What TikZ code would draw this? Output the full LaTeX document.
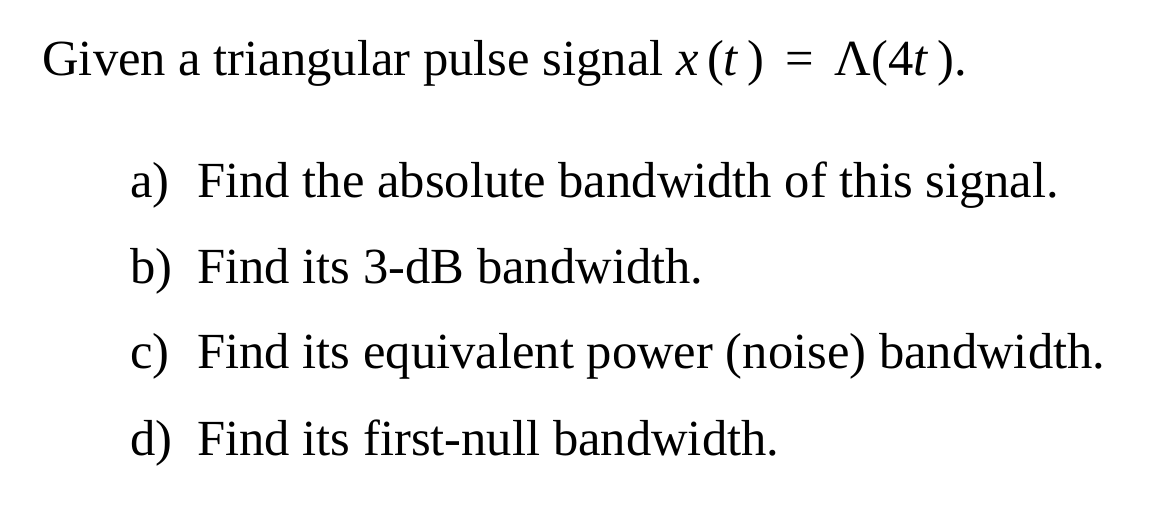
\documentclass[tikz,border=0pt]{standalone}
\usepackage{fontspec}
\setmainfont{Liberation Serif}
\begin{document}
\begin{tikzpicture}[x=0.5pt,y=-0.5pt,
  txt/.style={anchor=base west,inner sep=0pt,font=\fontsize{25.3}{29}\selectfont}]
\useasboundingbox (0,0) rectangle (1171,516);
\node[txt] (t0) at (42,75) {Given a triangular pulse signal \textit{x}\,(\textit{t}\,)\ \,=\ \,Λ(4\textit{t}\,).};
\node[txt] (la) at (130,197) {a)};
\node[txt] (ta) at (197,197) {Find the absolute bandwidth of this signal.};
\node[txt] (lb) at (130,283) {b)};
\node[txt] (tb) at (197,283) {Find its 3-dB bandwidth.};
\node[txt] (lc) at (130,368) {c)};
\node[txt] (tc) at (197,368) {Find its equivalent power (noise) bandwidth.};
\node[txt] (ld) at (130,455) {d)};
\node[txt] (td) at (197,455) {Find its first-null bandwidth.};
\end{tikzpicture}
\end{document}
